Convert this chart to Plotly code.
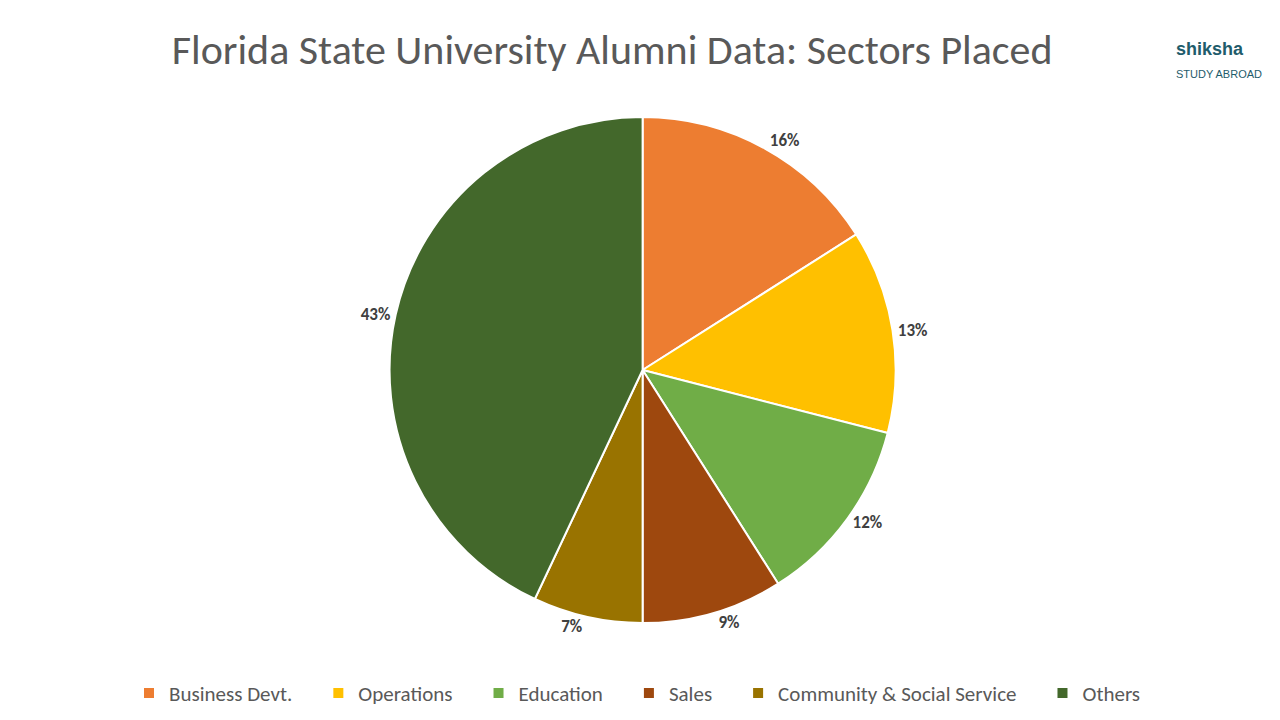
import plotly.graph_objects as go

labels = ["Business Devt.", "Operations", "Education", "Sales", "Community & Social Service", "Others"]
values = [16, 13, 12, 9, 7, 43]
colors = ["#ED7D31", "#FFC000", "#70AD47", "#9E480E", "#997300", "#43682B"]

fig = go.Figure(go.Pie(
    labels=[l + "\u2003" for l in labels], values=values, sort=False, direction="clockwise", rotation=0,
    domain=dict(x=[0.19, 0.80], y=[0.059, 0.966]),
    marker=dict(colors=colors, line=dict(color="white", width=2)),
    texttemplate="<b>%{percent:.0%}</b>", textposition="outside",
    textfont=dict(size=17, color="#404040", family="Calibri, Carlito, Liberation Sans, sans-serif"),
    hoverinfo="skip",
))
fig.update_layout(
    width=1280, height=720, paper_bgcolor="white", plot_bgcolor="white",
    margin=dict(l=100, r=100, t=90, b=72),
    title=dict(text="Florida State University Alumni Data: Sectors Placed", x=0.472, y=0.942,
               xanchor="center", yanchor="middle",
               font=dict(size=42, color="#595959", family="Calibri, Carlito, Liberation Sans, sans-serif")),
    showlegend=True,
    legend=dict(orientation="h", x=0.5, xanchor="center", y=-0.03, yanchor="top",
                font=dict(size=21, color="#595959", family="Calibri, Carlito, Liberation Sans, sans-serif")),
    annotations=[dict(text="<b>shiksha</b><br><span style='font-size:11px'>STUDY ABROAD</span>",
                      xref="paper", yref="paper", x=1.07, y=1.11, xanchor="right", yanchor="top",
                      showarrow=False, align="left",
                      font=dict(size=18, color="#1f5c6b", family="Liberation Sans"))],
)
fig.write_html("out.html")
